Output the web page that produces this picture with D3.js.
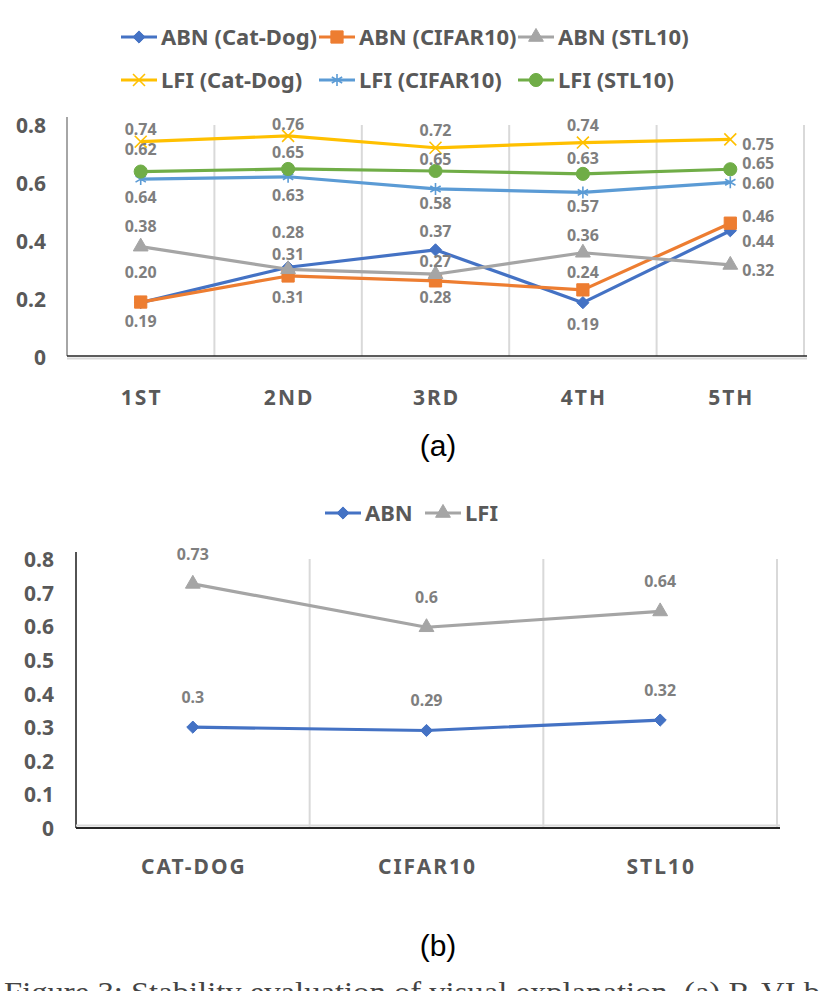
<!DOCTYPE html>
<html>
<head>
<meta charset="utf-8">
<script src="https://cdn.jsdelivr.net/npm/d3@7"></script>
<style>
  body { margin: 0; background: #fff; }
  svg { display: block; font-family: 'Noto Sans', 'DejaVu Sans', sans-serif; }
</style>
</head>
<body>
<div id="chart"></div>
<script>
// ---------- (a) stability per round ----------
const rounds = ["1ST", "2ND", "3RD", "4TH", "5TH"];

const abnCatDog = [0.184, 0.306, 0.366, 0.184, 0.432];
const abnCifar  = [0.186, 0.276, 0.259, 0.228, 0.458];
const abnStl    = [0.377, 0.299, 0.282, 0.356, 0.314];
const lfiCatDog = [0.739, 0.759, 0.718, 0.736, 0.747];
const lfiCifar  = [0.610, 0.618, 0.576, 0.564, 0.599];
const lfiStl    = [0.636, 0.645, 0.638, 0.628, 0.644];

// data label texts as printed in the figure
const abnCatDogLabels = ["0.19", "0.31", "0.37", "0.19", "0.44"];
const abnCifarLabels  = ["0.20", "0.31", "0.28", "0.24", "0.46"];
const abnStlLabels    = ["0.38", "0.28", "0.27", "0.36", "0.32"];
const lfiCatDogLabels = ["0.74", "0.76", "0.72", "0.74", "0.75"];
const lfiCifarLabels  = ["0.64", "0.63", "0.58", "0.57", "0.60"];
const lfiStlLabels    = ["0.62", "0.65", "0.65", "0.63", "0.65"];

const ticksA = [0, 0.2, 0.4, 0.6, 0.8];

// ---------- (b) average per dataset ----------
const datasets = ["CAT-DOG", "CIFAR10", "STL10"];
const abnAvg = [0.300, 0.290, 0.321];
const lfiAvg = [0.726, 0.597, 0.644];
const abnAvgLabels = ["0.3", "0.29", "0.32"];
const lfiAvgLabels = ["0.73", "0.6", "0.64"];

const ticksB = [0, 0.1, 0.2, 0.3, 0.4, 0.5, 0.6, 0.7, 0.8];

// label nudges (px) copied from the hand-placed Excel labels: [dx, dy]
const nudgeA = {
  abnCatDog: [[0, 19], [0, -13], [0, -19], [0, 22], [12, 11]],
  abnCifar:  [[0, -30], [0, 21], [0, 16], [0, -18], [12, -7]],
  abnStl:    [[0, -20], [0, -37], [0, -13], [0, -18], [12, 5]],
  lfiCatDog: [[0, -12], [0, -12], [0, -18], [0, -17], [12, 5]],
  lfiCifar:  [[0, 18], [0, 18], [0, 14], [0, 14], [12, 1]],
  lfiStl:    [[0, -22], [0, -17], [0, -12], [0, -16], [12, -6]]
};

const seriesA = [
  {key: "abnCatDog", name: "ABN (Cat-Dog)", values: abnCatDog, labels: abnCatDogLabels, color: "#4472C4", marker: "diamond"},
  {key: "abnCifar",  name: "ABN (CIFAR10)", values: abnCifar,  labels: abnCifarLabels,  color: "#ED7D31", marker: "square"},
  {key: "abnStl",    name: "ABN (STL10)",   values: abnStl,    labels: abnStlLabels,    color: "#A5A5A5", marker: "triangle"},
  {key: "lfiCatDog", name: "LFI (Cat-Dog)", values: lfiCatDog, labels: lfiCatDogLabels, color: "#FFC000", marker: "times"},
  {key: "lfiCifar",  name: "LFI (CIFAR10)", values: lfiCifar,  labels: lfiCifarLabels,  color: "#5B9BD5", marker: "asterisk"},
  {key: "lfiStl",    name: "LFI (STL10)",   values: lfiStl,    labels: lfiStlLabels,    color: "#70AD47", marker: "circle"}
];

const seriesB = [
  {name: "ABN", values: abnAvg, labels: abnAvgLabels, color: "#4472C4", marker: "diamond"},
  {name: "LFI", values: lfiAvg, labels: lfiAvgLabels, color: "#A5A5A5", marker: "triangle"}
];

const textDark = "#595959",
      textLabel = "#7f7f7f",
      gridColor = "#d9d9d9",
      labelSize = 16;

const svg = d3.select("#chart")
  .append("svg")
  .attr("width", 828)
  .attr("height", 991);

function drawMarker(g, type, color, x, y) {
  const shapes = {
    diamond:  [d3.symbolDiamond2, 95, true],
    square:   [d3.symbolSquare, 150, true],
    triangle: [d3.symbolTriangle, 95, true],
    times:    [d3.symbolTimes, 95, false],
    asterisk: [d3.symbolAsterisk, 100, false],
    circle:   [d3.symbolCircle, 135, true]
  };
  const [sym, size, filled] = shapes[type];
  g.append("path")
    .attr("d", d3.symbol(sym, size)())
    .attr("transform", `translate(${x},${y})`)
    .attr("fill", filled ? color : "none")
    .attr("stroke", color)
    .attr("stroke-width", filled ? 1 : 1.6);
}

function legendItem(g, s, x, y) {
  g.append("line")
    .attr("x1", x).attr("x2", x + 36)
    .attr("y1", y).attr("y2", y)
    .attr("stroke", s.color)
    .attr("stroke-width", 3);
  drawMarker(g, s.marker, s.color, x + 18, y);
  g.append("text")
    .attr("x", x + 40)
    .attr("y", y)
    .attr("dy", "0.36em")
    .attr("font-size", 22)
    .attr("font-weight", "bold")
    .attr("fill", textDark)
    .text(s.name);
}

function styleAxis(axisG, size) {
  axisG.select(".domain").remove();
  axisG.attr("font-family", null).attr("font-size", null);
  axisG.selectAll("text")
    .attr("font-size", size)
    .attr("font-weight", "bold")
    .attr("fill", textDark);
}

const tickFmt = d => d === 0 ? "0" : d.toFixed(1);

// ================= panel (a) =================
const gA = svg.append("g");

const xA = d3.scaleBand().domain(rounds).range([67, 804]);
const yA = d3.scaleLinear().domain([0, 0.8]).range([356, 124]);

// vertical gridlines at band edges
gA.selectAll("line.gridA")
  .data(rounds)
  .join("line")
  .attr("class", "gridA")
  .attr("x1", d => xA(d) + xA.bandwidth())
  .attr("x2", d => xA(d) + xA.bandwidth())
  .attr("y1", 125)
  .attr("y2", yA(0))
  .attr("stroke", gridColor)
  .attr("stroke-width", 2);

// y axis line
gA.append("line")
  .attr("x1", 67).attr("x2", 67)
  .attr("y1", 117).attr("y2", yA(0))
  .attr("stroke", "#a6a6a6")
  .attr("stroke-width", 2);

// x axis line
gA.append("line")
  .attr("x1", 67).attr("x2", 807)
  .attr("y1", yA(0) + 2.5).attr("y2", yA(0) + 2.5)
  .attr("stroke", gridColor)
  .attr("stroke-width", 2);
gA.append("line")
  .attr("x1", 67).attr("x2", 807)
  .attr("y1", yA(0)).attr("y2", yA(0))
  .attr("stroke", "#262626")
  .attr("stroke-width", 1.6);

const yAxisA = gA.append("g")
  .attr("transform", "translate(46,0)")
  .call(d3.axisLeft(yA).tickValues(ticksA).tickSize(0).tickPadding(0).tickFormat(tickFmt));
styleAxis(yAxisA, 21);
yAxisA.selectAll("text").attr("dy", "0.4em");

const xAxisA = gA.append("g")
  .attr("transform", `translate(0,${yA(0)})`)
  .call(d3.axisBottom(xA).tickSize(0).tickPadding(34));
styleAxis(xAxisA, 21);
xAxisA.selectAll("text").attr("letter-spacing", "2px").attr("dx", "1px");

const lineA = d3.line()
  .x((d, i) => xA(rounds[i]) + xA.bandwidth() / 2)
  .y(d => yA(d));

seriesA.forEach(s => {
  const g = gA.append("g");
  g.append("path")
    .attr("d", lineA(s.values))
    .attr("fill", "none")
    .attr("stroke", s.color)
    .attr("stroke-width", 3.2)
    .attr("stroke-linejoin", "round");
  s.values.forEach((v, i) => {
    drawMarker(g, s.marker, s.color, xA(rounds[i]) + xA.bandwidth() / 2, yA(v));
  });
});

// data labels on top of all lines
seriesA.forEach(s => {
  s.values.forEach((v, i) => {
    const [dx, dy] = nudgeA[s.key][i];
    gA.append("text")
      .attr("x", xA(rounds[i]) + xA.bandwidth() / 2 + dx)
      .attr("y", yA(v) + dy)
      .attr("dy", "0.36em")
      .attr("text-anchor", dx > 0 ? "start" : "middle")
      .attr("font-size", labelSize)
      .attr("font-weight", "bold")
      .attr("fill", textLabel)
      .text(s.labels[i]);
  });
});

// legend (a): two rows of three
const legendA = gA.append("g");
const legCols = [121, 319, 518],
      legRows = [37, 80];
seriesA.forEach((s, i) => {
  legendItem(legendA, s, legCols[i % 3], legRows[Math.floor(i / 3)]);
});

svg.append("text")
  .attr("x", 438)
  .attr("y", 456)
  .attr("text-anchor", "middle")
  .style("font-family", "'Liberation Sans', Arial, sans-serif")
  .attr("font-size", 30)
  .attr("fill", "#000")
  .text("(a)");

// ================= panel (b) =================
const gB = svg.append("g");

const xB = d3.scaleBand().domain(datasets).range([76, 777]);
const yB = d3.scaleLinear().domain([0, 0.8]).range([828, 559]);

gB.selectAll("line.gridB")
  .data(datasets)
  .join("line")
  .attr("class", "gridB")
  .attr("x1", d => xB(d) + xB.bandwidth())
  .attr("x2", d => xB(d) + xB.bandwidth())
  .attr("y1", 559)
  .attr("y2", yB(0))
  .attr("stroke", gridColor)
  .attr("stroke-width", 2);

gB.append("line")
  .attr("x1", 76).attr("x2", 76)
  .attr("y1", 552).attr("y2", yB(0))
  .attr("stroke", "#1a1a1a")
  .attr("stroke-width", 1.5);

gB.append("line")
  .attr("x1", 76).attr("x2", 780)
  .attr("y1", yB(0) - 2.5).attr("y2", yB(0) - 2.5)
  .attr("stroke", gridColor)
  .attr("stroke-width", 2);
gB.append("line")
  .attr("x1", 76).attr("x2", 780)
  .attr("y1", yB(0)).attr("y2", yB(0))
  .attr("stroke", "#262626")
  .attr("stroke-width", 2);

const yAxisB = gB.append("g")
  .attr("transform", "translate(54,0)")
  .call(d3.axisLeft(yB).tickValues(ticksB).tickSize(0).tickPadding(0).tickFormat(tickFmt));
styleAxis(yAxisB, 21);
yAxisB.selectAll("text").attr("dy", "0.36em");

const xAxisB = gB.append("g")
  .attr("transform", `translate(0,${yB(0)})`)
  .call(d3.axisBottom(xB).tickSize(0).tickPadding(31));
styleAxis(xAxisB, 21);
xAxisB.selectAll("text").attr("letter-spacing", "2px").attr("dx", "1px");

const lineB = d3.line()
  .x((d, i) => xB(datasets[i]) + xB.bandwidth() / 2)
  .y(d => yB(d));

seriesB.forEach(s => {
  const g = gB.append("g");
  g.append("path")
    .attr("d", lineB(s.values))
    .attr("fill", "none")
    .attr("stroke", s.color)
    .attr("stroke-width", 3.2)
    .attr("stroke-linejoin", "round");
  s.values.forEach((v, i) => {
    const cx = xB(datasets[i]) + xB.bandwidth() / 2;
    drawMarker(g, s.marker, s.color, cx, yB(v));
    g.append("text")
      .attr("x", cx)
      .attr("y", yB(v) - 30)
      .attr("dy", "0.36em")
      .attr("text-anchor", "middle")
      .attr("font-size", labelSize)
      .attr("font-weight", "bold")
      .attr("fill", textLabel)
      .text(s.labels[i]);
  });
});

const legendB = gB.append("g");
legendItem(legendB, seriesB[0], 325, 513);
legendItem(legendB, seriesB[1], 425, 513);

svg.append("text")
  .attr("x", 438)
  .attr("y", 956)
  .attr("text-anchor", "middle")
  .style("font-family", "'Liberation Sans', Arial, sans-serif")
  .attr("font-size", 30)
  .attr("fill", "#000")
  .text("(b)");

// figure caption, cut off by the bottom edge as in the scan
svg.append("text")
  .attr("x", 4)
  .attr("y", 1002)
  .style("font-family", "'Liberation Serif', 'Times New Roman', serif")
  .attr("font-size", 29)
  .attr("fill", "#444")
  .attr("textLength", 816)
  .attr("lengthAdjust", "spacingAndGlyphs")
  .text("Figure 3: Stability evaluation of visual explanation. (a) R-VI b");
</script>
</body>
</html>
